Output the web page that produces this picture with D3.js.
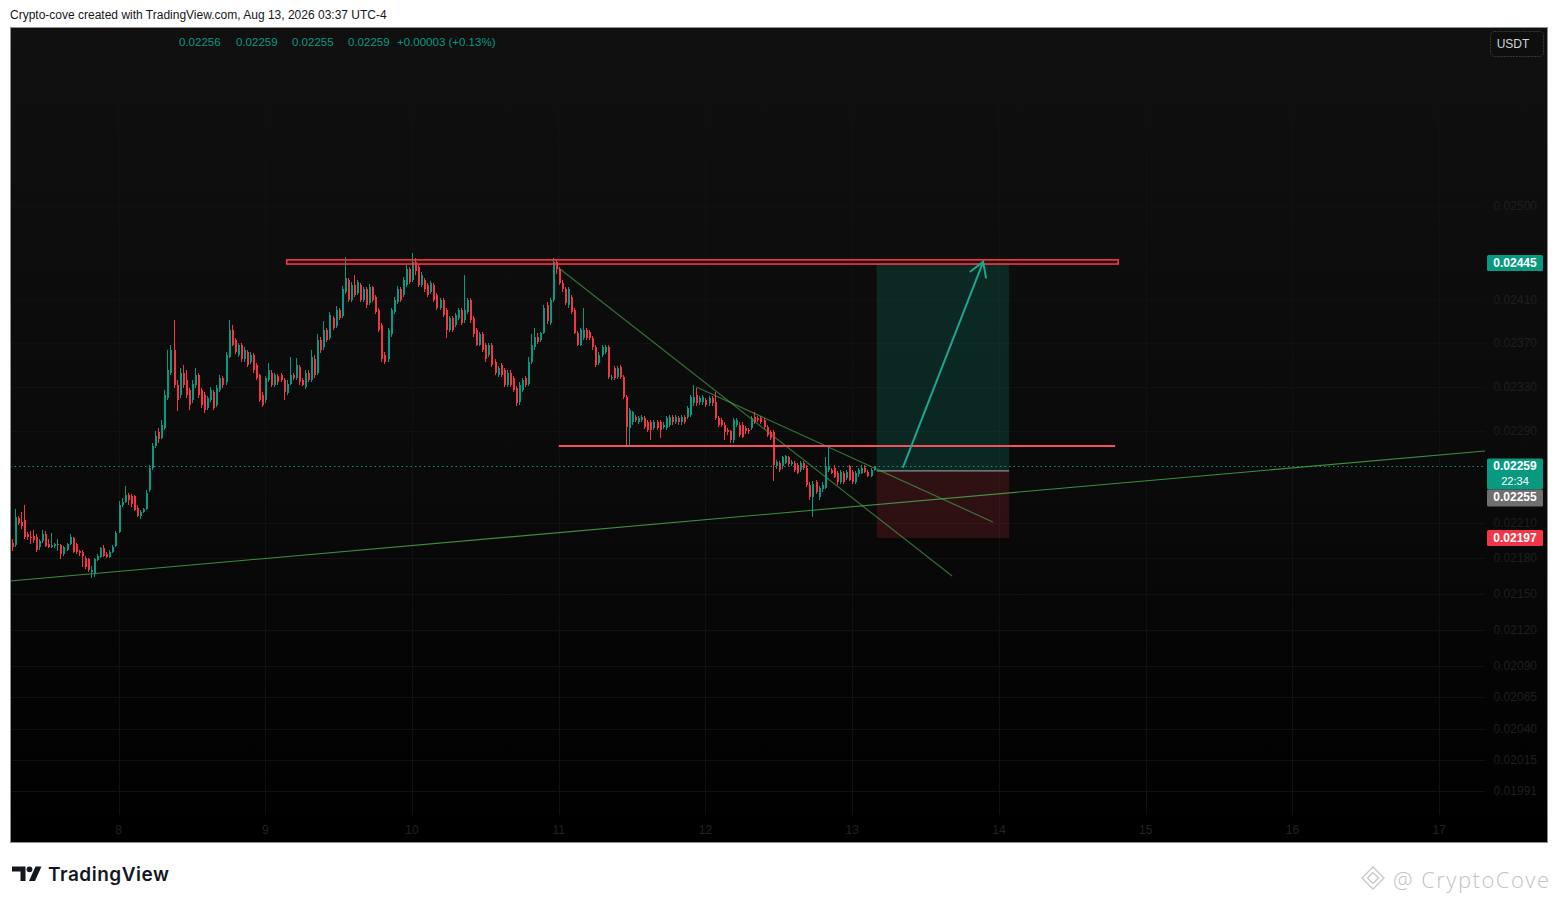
<!DOCTYPE html>
<html><head><meta charset="utf-8">
<script src="https://cdn.jsdelivr.net/npm/d3@7"></script>
<style>html,body{margin:0;padding:0;background:#fff;overflow:hidden}svg{display:block}</style>
</head><body>
<script>
// ---------------- DATA ----------------
const firstBar = "2026-08-07T06:30";   // 30-minute candles
const barMinutes = 30;
// [open, high, low, close]
const aug07 = [
[.02193,.02196,.02186,.02189],[.02191,.02222,.02189,.02215],[.02214,.02216,.02208,.02210],[.02211,.02219,.02205,.02207],
[.02212,.02225,.02196,.02198],[.02200,.02202,.02195,.02198],[.02198,.02203,.02192,.02197],[.02199,.02204,.02193,.02195],
[.02198,.02200,.02185,.02187],[.02189,.02196,.02187,.02194],[.02194,.02204,.02193,.02200],[.02200,.02203,.02189,.02190],
[.02192,.02196,.02188,.02189],[.02189,.02201,.02188,.02191],[.02190,.02193,.02188,.02192],[.02191,.02196,.02186,.02192],
[.02191,.02192,.02179,.02183],[.02183,.02190,.02182,.02189],[.02187,.02193,.02186,.02192],[.02192,.02200,.02191,.02198],
[.02197,.02198,.02184,.02185],[.02192,.02193,.02183,.02185],[.02186,.02187,.02182,.02184],[.02185,.02187,.02172,.02182],
[.02180,.02182,.02171,.02172],[.02179,.02180,.02168,.02170],[.02168,.02173,.02163,.02170],[.02167,.02180,.02164,.02179],
[.02178,.02183,.02177,.02182],[.02181,.02189,.02180,.02188],[.02188,.02191,.02181,.02182],[.02183,.02185,.02180,.02181],
[.02181,.02187,.02180,.02185],[.02185,.02191,.02184,.02189],[.02190,.02203,.02189,.02201]];
const aug08 = [
[.02202,.02229,.02201,.02225],[.02225,.02231,.02224,.02228],[.02228,.02242,.02227,.02234],[.02234,.02236,.02225,.02230],
[.02233,.02235,.02224,.02226],[.02233,.02234,.02220,.02221],[.02223,.02225,.02215,.02216],[.02216,.02221,.02213,.02219],
[.02219,.02223,.02218,.02222],[.02222,.02238,.02221,.02236],[.02238,.02260,.02237,.02258],[.02258,.02280,.02256,.02277],
[.02277,.02290,.02275,.02286],[.02289,.02293,.02280,.02283],[.02284,.02300,.02283,.02296],[.02293,.02327,.02291,.02323],
[.02320,.02364,.02318,.02345],[.02343,.02368,.02341,.02364],[.02364,.02391,.02329,.02332],[.02332,.02336,.02308,.02318],
[.02323,.02347,.02320,.02343],[.02343,.02350,.02329,.02332],[.02336,.02345,.02320,.02323],[.02327,.02329,.02309,.02314],
[.02318,.02336,.02315,.02333],[.02332,.02347,.02329,.02341],[.02341,.02343,.02320,.02323],[.02327,.02329,.02311,.02314],
[.02323,.02325,.02306,.02309],[.02311,.02322,.02309,.02320],[.02318,.02330,.02316,.02327],[.02325,.02327,.02309,.02311],
[.02314,.02332,.02312,.02329],[.02327,.02341,.02325,.02338],[.02338,.02340,.02329,.02332],[.02334,.02362,.02332,.02359],
[.02357,.02391,.02356,.02382],[.02382,.02387,.02367,.02368],[.02373,.02375,.02360,.02362],[.02359,.02370,.02357,.02368],
[.02368,.02370,.02353,.02355],[.02355,.02366,.02353,.02364],[.02362,.02364,.02348,.02350],[.02353,.02362,.02351,.02359],
[.02359,.02361,.02343,.02345],[.02350,.02352,.02336,.02338],[.02341,.02342,.02316,.02318],[.02323,.02325,.02312,.02314]];
const aug09 = [
[.02318,.02340,.02315,.02338],[.02336,.02352,.02334,.02345],[.02343,.02345,.02330,.02332],[.02332,.02343,.02330,.02341],
[.02340,.02342,.02332,.02334],[.02341,.02343,.02334,.02336],[.02336,.02338,.02318,.02325],[.02324,.02336,.02323,.02333],
[.02333,.02357,.02332,.02341],[.02341,.02343,.02336,.02338],[.02338,.02356,.02336,.02350],[.02348,.02350,.02332,.02334],
[.02336,.02338,.02331,.02332],[.02330,.02345,.02328,.02343],[.02343,.02345,.02334,.02336],[.02336,.02364,.02334,.02357],
[.02355,.02359,.02338,.02341],[.02343,.02378,.02341,.02373],[.02373,.02376,.02361,.02364],[.02366,.02390,.02364,.02382],
[.02382,.02384,.02371,.02373],[.02375,.02399,.02373,.02396],[.02393,.02395,.02382,.02384],[.02386,.02404,.02384,.02401],
[.02401,.02403,.02391,.02393],[.02395,.02423,.02393,.02420],[.02418,.02451,.02416,.02431],[.02429,.02431,.02408,.02410],
[.02410,.02427,.02408,.02424],[.02424,.02434,.02413,.02415],[.02417,.02429,.02415,.02427],[.02424,.02426,.02408,.02410],
[.02410,.02422,.02408,.02420],[.02420,.02422,.02403,.02405],[.02407,.02425,.02405,.02422],[.02422,.02423,.02408,.02410],
[.02413,.02415,.02397,.02399],[.02401,.02403,.02380,.02382],[.02387,.02389,.02353,.02355],[.02359,.02362,.02351,.02353],
[.02355,.02384,.02353,.02382],[.02378,.02403,.02376,.02401],[.02399,.02413,.02397,.02410],[.02408,.02423,.02406,.02420],
[.02420,.02422,.02408,.02410],[.02415,.02432,.02413,.02429],[.02424,.02443,.02422,.02439],[.02439,.02441,.02425,.02427]];
const aug10 = [
[.02429,.02455,.02427,.02446],[.02446,.02450,.02434,.02437],[.02441,.02443,.02422,.02424],[.02424,.02436,.02422,.02434],
[.02429,.02431,.02418,.02420],[.02424,.02426,.02413,.02415],[.02418,.02428,.02416,.02426],[.02424,.02426,.02408,.02410],
[.02415,.02417,.02401,.02403],[.02403,.02412,.02401,.02410],[.02410,.02412,.02394,.02396],[.02401,.02403,.02375,.02382],
[.02382,.02395,.02380,.02393],[.02393,.02395,.02380,.02382],[.02387,.02398,.02385,.02396],[.02393,.02403,.02391,.02401],
[.02401,.02403,.02387,.02389],[.02391,.02434,.02389,.02401],[.02399,.02412,.02397,.02410],[.02410,.02412,.02389,.02391],
[.02393,.02395,.02376,.02378],[.02382,.02384,.02367,.02368],[.02368,.02380,.02367,.02378],[.02378,.02380,.02362,.02364],
[.02368,.02370,.02353,.02355],[.02359,.02370,.02357,.02368],[.02368,.02370,.02348,.02350],[.02353,.02355,.02341,.02343],
[.02341,.02349,.02339,.02347],[.02350,.02352,.02339,.02341],[.02345,.02347,.02330,.02332],[.02332,.02345,.02330,.02343],
[.02343,.02345,.02330,.02332],[.02338,.02340,.02325,.02327],[.02329,.02331,.02313,.02315],[.02316,.02334,.02314,.02332],
[.02327,.02338,.02325,.02336],[.02338,.02340,.02330,.02332],[.02333,.02357,.02331,.02353],[.02353,.02378,.02351,.02368],
[.02366,.02384,.02364,.02376],[.02376,.02379,.02369,.02371],[.02373,.02380,.02371,.02379],[.02379,.02405,.02378,.02403],
[.02405,.02408,.02388,.02390],[.02389,.02412,.02387,.02410],[.02410,.02450,.02408,.02446],[.02446,.02448,.02435,.02439]];
const aug11 = [
[.02439,.02441,.02424,.02426],[.02426,.02429,.02418,.02420],[.02420,.02422,.02405,.02407],[.02405,.02422,.02403,.02420],
[.02413,.02415,.02397,.02399],[.02401,.02403,.02378,.02379],[.02379,.02381,.02367,.02368],[.02368,.02384,.02367,.02382],
[.02375,.02403,.02373,.02382],[.02382,.02384,.02373,.02375],[.02380,.02382,.02373,.02375],[.02375,.02377,.02364,.02366],
[.02366,.02368,.02348,.02350],[.02352,.02362,.02350,.02359],[.02359,.02368,.02357,.02366],[.02362,.02368,.02360,.02366],
[.02366,.02368,.02337,.02339],[.02338,.02341,.02336,.02339],[.02347,.02349,.02336,.02338],[.02339,.02349,.02337,.02347],
[.02348,.02350,.02337,.02339],[.02339,.02341,.02319,.02321],[.02321,.02323,.02278,.02294],[.02293,.02311,.02276,.02309],
[.02298,.02308,.02296,.02307],[.02303,.02305,.02298,.02300],[.02298,.02304,.02297,.02302],[.02300,.02305,.02298,.02303],
[.02302,.02304,.02292,.02294],[.02298,.02300,.02289,.02291],[.02298,.02300,.02282,.02291],[.02293,.02300,.02291,.02298],
[.02298,.02300,.02291,.02293],[.02298,.02300,.02284,.02291],[.02294,.02298,.02292,.02296],[.02293,.02304,.02291,.02302],
[.02296,.02305,.02294,.02303],[.02303,.02305,.02296,.02298],[.02298,.02305,.02297,.02303],[.02302,.02304,.02296,.02298],
[.02298,.02305,.02296,.02303],[.02303,.02305,.02297,.02298],[.02303,.02313,.02301,.02311],[.02305,.02323,.02303,.02321],
[.02315,.02332,.02313,.02321],[.02323,.02329,.02313,.02315],[.02316,.02322,.02314,.02320],[.02316,.02323,.02314,.02321]];
const aug12 = [
[.02318,.02320,.02312,.02314],[.02315,.02322,.02313,.02320],[.02320,.02322,.02313,.02315],[.02316,.02325,.02300,.02302],
[.02302,.02304,.02294,.02296],[.02300,.02302,.02294,.02296],[.02296,.02298,.02282,.02289],[.02291,.02293,.02287,.02289],
[.02290,.02291,.02280,.02282],[.02282,.02302,.02280,.02300],[.02296,.02302,.02294,.02300],[.02296,.02298,.02285,.02287],
[.02296,.02298,.02284,.02285],[.02293,.02295,.02288,.02290],[.02291,.02293,.02288,.02290],[.02293,.02304,.02291,.02302],
[.02303,.02307,.02297,.02298],[.02302,.02304,.02298,.02300],[.02302,.02304,.02297,.02298],[.02300,.02302,.02292,.02294],
[.02294,.02296,.02285,.02287],[.02289,.02291,.02282,.02284],[.02289,.02291,.02246,.02260],[.02259,.02265,.02257,.02263],
[.02262,.02264,.02254,.02256],[.02259,.02268,.02257,.02267],[.02262,.02269,.02261,.02268],[.02267,.02268,.02259,.02261],
[.02261,.02265,.02259,.02263],[.02262,.02264,.02254,.02256],[.02260,.02262,.02252,.02253],[.02256,.02264,.02254,.02262],
[.02262,.02264,.02256,.02258],[.02258,.02260,.02241,.02243],[.02243,.02245,.02230,.02232],[.02232,.02246,.02215,.02244],
[.02245,.02247,.02235,.02237],[.02232,.02242,.02230,.02240],[.02239,.02245,.02237,.02243],[.02240,.02267,.02239,.02259],
[.02256,.02276,.02254,.02259],[.02256,.02258,.02252,.02253],[.02258,.02260,.02249,.02250],[.02253,.02255,.02243,.02245],
[.02245,.02256,.02244,.02254],[.02253,.02255,.02244,.02245],[.02249,.02256,.02247,.02254],[.02259,.02260,.02246,.02247]];
const aug13 = [
[.02254,.02256,.02244,.02245],[.02245,.02255,.02244,.02253],[.02252,.02258,.02250,.02256],[.02253,.02260,.02252,.02258],
[.02258,.02260,.02253,.02254],[.02254,.02256,.02250,.02251],[.02251,.02258,.02250,.02256],[.02256,.02259,.02255,.02259]];

const dayLabels = ["8","9","10","11","12","13","14","15","16","17"];
const dayDates  = ["2026-08-08","2026-08-09","2026-08-10","2026-08-11","2026-08-12","2026-08-13","2026-08-14","2026-08-15","2026-08-16","2026-08-17"];
// price-scale labels that are visible (others sit under the price tags)
const priceTicks = [0.02500,0.02410,0.02370,0.02330,0.02290,0.02210,0.02180,0.02150,0.02120,0.02090,0.02065,0.02040,0.02015,0.01991];

// drawings (time, price)
const resistanceBox = {t0:"2026-08-09T03:30", t1:"2026-08-14T19:30", top:0.02448, bottom:0.02444};
const supportLine   = {t0:"2026-08-11T00:00", t1:"2026-08-14T19:00", price:0.02277};
const trendUp       = {t0:"2026-08-07T06:15", p0:0.021605, t1:"2026-08-17T07:30", p1:0.022726};
const trendDownA    = {t0:"2026-08-11T00:00", p0:0.024403, t1:"2026-08-13T16:20", p1:0.021647};
const trendDownB    = {t0:"2026-08-11T22:30", p0:0.023299, t1:"2026-08-13T23:00", p1:0.022107};
const longPos       = {t0:"2026-08-13T04:00", t1:"2026-08-14T01:40", entry:0.02255, target:0.02445, stop:0.02197};
const arrowPath     = {t0:"2026-08-13T08:20", p0:0.022585, t1:"2026-08-13T21:25", p1:0.024461};
const countdown = "22:34";
const symbolCurrency = "USDT";
const headerText = "Crypto-cove created with TradingView.com, Aug 13, 2026 03:37 UTC-4";

// ---------------- SETUP ----------------
const W = 1558, H = 904;
const parse = d3.utcParse("%Y-%m-%dT%H:%M");
const parseDay = d3.utcParse("%Y-%m-%d");
const t0 = parse(firstBar);
const rows = [].concat(aug07, aug08, aug09, aug10, aug11, aug12, aug13);
const candles = rows.map((r, i) => ({t: d3.utcMinute.offset(t0, barMinutes * i), o:r[0], h:r[1], l:r[2], c:r[3]}));

const P = {x0:10, x1:1485, y0:27, y1:815};
const x = d3.scaleTime()
  .domain([d3.utcMinute.offset(t0, -barMinutes/2), d3.utcMinute.offset(t0, barMinutes*482)])
  .range([P.x0, P.x1]);
const y = d3.scaleLog().domain([0.01991, 0.02445]).range([791, 263]);

const GREEN = "#089981", RED = "#f23645";
const fmt = d3.format(".5f");

const svg = d3.select("body").append("svg").attr("width", W).attr("height", H)
  .style("font-family", "'Liberation Sans', Arial, sans-serif");
svg.append("rect").attr("width", W).attr("height", H).attr("fill", "#ffffff");

const defs = svg.append("defs");
const g1 = defs.append("linearGradient").attr("id","bg").attr("x1",0).attr("y1",0).attr("x2",0).attr("y2",1);
g1.append("stop").attr("offset","0%").attr("stop-color","#101010");
g1.append("stop").attr("offset","55%").attr("stop-color","#0a0a0a");
g1.append("stop").attr("offset","100%").attr("stop-color","#000000");
defs.append("clipPath").attr("id","plotclip").append("rect")
  .attr("x",P.x0).attr("y",P.y0).attr("width",P.x1-P.x0).attr("height",P.y1-P.y0);

// chart background
svg.append("rect").attr("x",10).attr("y",27).attr("width",1538).attr("height",816).attr("fill","url(#bg)");
svg.append("rect").attr("x",10).attr("y",815).attr("width",1538).attr("height",28).attr("fill","#000");

// grid (very faint)
const grid = svg.append("g").attr("clip-path","url(#plotclip)");
grid.selectAll("line.v").data(dayDates).join("line")
  .attr("x1", d => Math.round(x(parseDay(d)))+0.5).attr("x2", d => Math.round(x(parseDay(d)))+0.5)
  .attr("y1", P.y0).attr("y2", P.y1).attr("stroke", "#111111").attr("stroke-width", 1);
grid.selectAll("line.h").data(priceTicks).join("line")
  .attr("x1", P.x0).attr("x2", P.x1)
  .attr("y1", d => Math.round(y(d))+0.5).attr("y2", d => Math.round(y(d))+0.5)
  .attr("stroke", "#111111").attr("stroke-width", 1);

// price axis labels (faint)
svg.append("g").selectAll("text").data(priceTicks).join("text")
  .attr("x", 1537).attr("y", d => y(d)+4).attr("text-anchor","end")
  .attr("font-size", 12).attr("fill", "#1f1f1f").text(d => fmt(d));

// time axis labels (faint)
svg.append("g").selectAll("text").data(dayDates).join("text")
  .attr("x", d => x(parseDay(d))).attr("y", 834).attr("text-anchor","middle")
  .attr("font-family","'Liberation Sans Narrow','Liberation Sans',Arial,sans-serif")
  .attr("font-size", 12).attr("fill", "#222222").text((d,i) => dayLabels[i]);

const plot = svg.append("g").attr("clip-path","url(#plotclip)");

// long position tool
const lx0 = x(parse(longPos.t0)), lx1 = x(parse(longPos.t1));
plot.append("rect").attr("x",lx0).attr("y",y(longPos.target)).attr("width",lx1-lx0)
  .attr("height",y(longPos.entry)-y(longPos.target)).attr("fill",GREEN).attr("fill-opacity",0.2);
plot.append("rect").attr("x",lx0).attr("y",y(longPos.entry)).attr("width",lx1-lx0)
  .attr("height",y(longPos.stop)-y(longPos.entry)).attr("fill",RED).attr("fill-opacity",0.16);
plot.append("line").attr("x1",lx0).attr("x2",lx1).attr("y1",y(longPos.entry)).attr("y2",y(longPos.entry))
  .attr("stroke","#8a8d96").attr("stroke-width",1.2);
plot.append("line").attr("x1",lx0).attr("x2",lx1).attr("y1",y(longPos.target)+1.5).attr("y2",y(longPos.target)+1.5)
  .attr("stroke","#6a6d70").attr("stroke-width",1).attr("stroke-dasharray","1,2");

// current price dotted line
const last = candles[candles.length-1], prev = candles[candles.length-2];
plot.append("line").attr("x1",P.x0).attr("x2",P.x1).attr("y1",Math.round(y(last.c))+0.5).attr("y2",Math.round(y(last.c))+0.5)
  .attr("stroke",GREEN).attr("stroke-width",1).attr("stroke-dasharray","1.5,3");

// trend lines
function seg(s, color, op, w) {
  plot.append("line").attr("x1",x(parse(s.t0))).attr("y1",y(s.p0)).attr("x2",x(parse(s.t1))).attr("y2",y(s.p1))
    .attr("stroke",color).attr("stroke-opacity",op).attr("stroke-width",w);
}
seg(trendUp, "#4caf50", 0.8, 1.1);
seg(trendDownA, "#4caf50", 0.62, 1.2);
seg(trendDownB, "#4caf50", 0.62, 1.2);

// candles
const cg = plot.append("g").attr("shape-rendering","crispEdges");
cg.selectAll("line").data(candles).join("line")
  .attr("x1", d => Math.round(x(d.t))+0.5).attr("x2", d => Math.round(x(d.t))+0.5)
  .attr("y1", d => y(d.h)).attr("y2", d => y(d.l))
  .attr("stroke", d => d.c >= d.o ? GREEN : RED).attr("stroke-width",1);
cg.selectAll("rect").data(candles).join("rect")
  .attr("x", d => Math.round(x(d.t))-0.5).attr("width", 2)
  .attr("y", d => y(Math.max(d.o,d.c)))
  .attr("height", d => Math.max(1, Math.abs(y(d.o)-y(d.c))))
  .attr("fill", d => d.c >= d.o ? GREEN : RED);

// resistance box
const rb = resistanceBox;
plot.append("rect").attr("x",x(parse(rb.t0))).attr("y",y(rb.top)).attr("width",x(parse(rb.t1))-x(parse(rb.t0)))
  .attr("height",y(rb.bottom)-y(rb.top)).attr("fill",RED).attr("fill-opacity",0.12)
  .attr("stroke",RED).attr("stroke-width",1.6);
// support line
plot.append("line").attr("x1",x(parse(supportLine.t0))).attr("x2",x(parse(supportLine.t1)))
  .attr("y1",y(supportLine.price)).attr("y2",y(supportLine.price)).attr("stroke","#f4505d").attr("stroke-width",2);

// arrow
const ax0 = x(parse(arrowPath.t0)), ay0 = y(arrowPath.p0), ax1 = x(parse(arrowPath.t1)), ay1 = y(arrowPath.p1);
const ang = Math.atan2(ay1-ay0, ax1-ax0), hl = 16, ha = 0.55;
plot.append("path")
  .attr("d", `M${ax0},${ay0}L${ax1},${ay1}M${ax1-hl*Math.cos(ang-ha)},${ay1-hl*Math.sin(ang-ha)}L${ax1},${ay1}L${ax1-hl*Math.cos(ang+ha)},${ay1-hl*Math.sin(ang+ha)}`)
  .attr("fill","none").attr("stroke","#1fa58e").attr("stroke-width",2).attr("stroke-linecap","round");

// price tags on axis
function tag(fill, lines, yTop, h) {
  const g = svg.append("g");
  g.append("rect").attr("x",1487).attr("y",yTop).attr("width",56).attr("height",h).attr("rx",1.5).attr("fill",fill);
  lines.forEach((t, k) => g.append("text").attr("x",1515).attr("y",yTop+12+k*15).attr("text-anchor","middle")
    .attr("font-size",k===0?12:11).attr("font-weight",k===0?"bold":"normal").attr("fill","#ffffff").text(t));
}
tag(GREEN, [fmt(longPos.target)], y(longPos.target)-8, 16);
tag(GREEN, [fmt(last.c), countdown], y(last.c)-8, 31);
tag("#6f6f6f", [fmt(longPos.entry)], y(last.c)+23, 17);
tag(RED, [fmt(longPos.stop)], y(longPos.stop)-8, 16);

// currency box
svg.append("rect").attr("x",1490.5).attr("y",31.5).attr("width",53).attr("height",25).attr("rx",4)
  .attr("fill","#0e0e0e").attr("stroke","#2b4034").attr("stroke-width",1).attr("stroke-dasharray","2,1");
svg.append("text").attr("x",1513).attr("y",48).attr("text-anchor","middle").attr("font-size",12)
  .attr("fill","#d1d4dc").text(symbolCurrency);

// frame
svg.append("rect").attr("x",10.5).attr("y",27.5).attr("width",1537).attr("height",815)
  .attr("fill","none").attr("stroke","#8f8f8f").attr("stroke-width",1);

// header
svg.append("text").attr("x",10).attr("y",19).attr("font-size",12).attr("fill","#131722").text(headerText);
const chg = last.c - prev.c;
const ohlc = [fmt(last.o), fmt(last.h), fmt(last.l), fmt(last.c),
  (chg>=0?"+":"") + fmt(chg) + " (" + (chg>=0?"+":"") + d3.format(".2f")(chg/prev.c*100) + "%)"];
const ohlcX = [179, 236, 292, 348, 397];
svg.append("g").selectAll("text").data(ohlc).join("text")
  .attr("x",(d,i)=>ohlcX[i]).attr("y",46).attr("font-size",11.5).attr("fill",GREEN).text(d=>d);

// TradingView logo
const logo = svg.append("g").attr("fill","#131722");
logo.append("path").attr("d","M12,866.5H25.5V881H20.5V871.5H12Z");
logo.append("circle").attr("cx",29.5).attr("cy",869.3).attr("r",2.9);
logo.append("path").attr("d","M29,881L35.5,866.5H41.5L35,881Z");
svg.append("text").attr("x",48).attr("y",881).attr("font-family","Inter, 'Open Sans', sans-serif")
  .attr("font-weight",600).attr("font-size",19).attr("textLength",121).attr("fill","#131722").text("TradingView");

// watermark
const wm = svg.append("g").attr("fill","none").attr("stroke","#c4c8c8").attr("stroke-width",1.3);
wm.append("path").attr("d","M1373,867L1384,878L1373,889L1362,878Z");
wm.append("path").attr("d","M1373,872.5L1378.5,878L1373,883.5L1367.5,878Z");
svg.append("text").attr("x",1393).attr("y",888).attr("font-family","'Open Sans', sans-serif")
  .attr("font-size",22).attr("font-weight",300).attr("fill","#c0c4c4").attr("textLength",156).text("@ CryptoCove");
</script>
</body></html>
